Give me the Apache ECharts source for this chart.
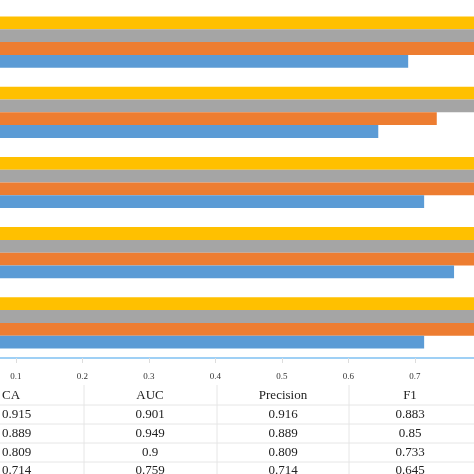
<!DOCTYPE html>
<html>
<head>
<meta charset="utf-8">
<script src="https://cdn.jsdelivr.net/npm/echarts@6/dist/echarts.min.js"></script>
<style>html,body{margin:0;padding:0;background:#fff}#chart{width:474px;height:474px}</style>
</head>
<body>
<div id="chart"></div>
<script>
// groups from bottom to top
var categories = ['CA', 'AUC', 'Precision', 'F1', 'Recall'];
// bar series (blue is the lowest bar inside each group)
var seriesBlue = [0.714, 0.759, 0.714, 0.645, 0.69];
var seriesOrange = [0.809, 0.9, 0.809, 0.733, 0.82];
var seriesGray = [0.889, 0.949, 0.889, 0.85, 0.86];
var seriesYellow = [0.915, 0.901, 0.916, 0.883, 0.9];
var tickLabels = [0.1, 0.2, 0.3, 0.4, 0.5, 0.6, 0.7];
// table under the chart
var tableHeader = ['CA', 'AUC', 'Precision', 'F1'];
var tableRows = [
    ['0.915', '0.901', '0.916', '0.883'],
    ['0.889', '0.949', '0.889', '0.85'],
    ['0.809', '0.9', '0.809', '0.733'],
    ['0.714', '0.759', '0.714', '0.645']
];

var chart = echarts.init(document.getElementById('chart'));

var colX = [2, 150, 283, 410];
var rowY = [396, 415, 434, 453, 471];
var graphics = [];
function addRow(cells, y){
    for (var i = 0; i < cells.length; i++) {
        graphics.push({
            type: 'text', x: colX[i], y: y,
            style: {
                text: cells[i], fill: '#222', font: '13px "Liberation Serif", serif',
                textAlign: i == 0 ? 'left' : 'center', textVerticalAlign: 'middle'
            }
        });
    }
}
addRow(tableHeader, rowY[0]);
for (var r = 0; r < tableRows.length; r++) addRow(tableRows[r], rowY[r + 1]);
// table lines
[84, 217, 349].forEach(function(x){
    graphics.push({type: 'line', shape: {x1: x, y1: 385, x2: x, y2: 474}, style: {stroke: '#e6e6e6', lineWidth: 1}});
});
[405, 424, 443, 462].forEach(function(y){
    graphics.push({type: 'line', shape: {x1: 0, y1: y, x2: 474, y2: y}, style: {stroke: '#e6e6e6', lineWidth: 1}});
});

function bar(name, data, color){
    return {name: name, type: 'bar', data: data, barGap: '0%', barCategoryGap: '27%',
        itemStyle: {color: color}, silent: true};
}

chart.setOption({
    animation: false,
    grid: {left: 0, right: 0, top: 7, height: 351},
    xAxis: {
        type: 'value', min: 0.076, max: 0.789,
        splitLine: {show: false},
        axisLine: {show: true, lineStyle: {color: '#9fd0f5', width: 2}},
        axisTick: {show: true, customValues: tickLabels, length: 5, lineStyle: {color: '#ddd'}},
        axisLabel: {customValues: tickLabels, color: '#333', fontSize: 9, margin: 14,
            fontFamily: 'Liberation Serif', formatter: function(v){ return String(Math.round(v * 10) / 10); }}
    },
    yAxis: {
        type: 'category', data: categories,
        axisLine: {show: false}, axisTick: {show: false}, axisLabel: {show: false}
    },
    // first series is drawn at the top of each group
    series: [
        bar('Model 1', seriesYellow, '#FFC000'),
        bar('Model 2', seriesGray, '#A5A5A5'),
        bar('Model 3', seriesOrange, '#ED7D31'),
        bar('Model 4', seriesBlue, '#5B9BD5')
    ],
    graphic: graphics
});
</script>
</body>
</html>
